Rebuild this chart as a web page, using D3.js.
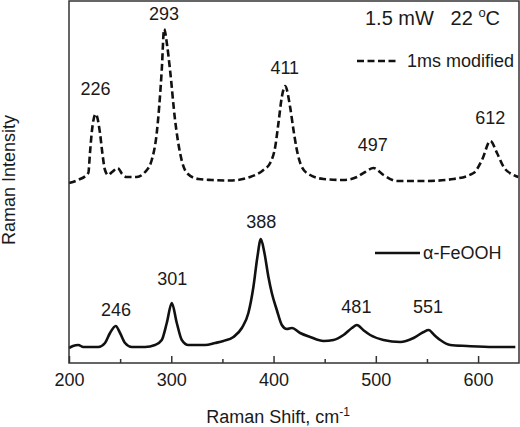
<!DOCTYPE html>
<html><head><meta charset="utf-8">
<script src="https://cdn.jsdelivr.net/npm/d3@7"></script>
<style>
body{margin:0;background:#fff;}
text{font-family:"Liberation Sans",Arial,sans-serif;fill:#1a1a1a;}
</style></head>
<body><svg id="c" width="520" height="427"></svg>
<script>
// Raman shift (cm-1) and intensity (arb. units)
const modShift = [200,208.8,218.9,220.5,222.2,226.1,230.3,232.6,235.2,238.2,242.1,247.7,251.9,256.5,266.2,274.4,280.9,285.8,290.7,293,295.9,298.8,303.7,308.6,315.2,326.5,339.6,357.5,377.1,390.1,396.7,401.6,404.8,408.1,411.4,416.2,419.5,422.8,427.7,435.8,448.8,468.4,481.5,489.6,497.7,507.5,520.6,550,576,595.6,603.8,612,618.5,625,634.7,639.3];
const modInt   = [180,183,190,210,230,249,230,210,193,188,191,195,189,186,186,191,203,230,293,334,318,293,243,210,190,184,183,182.5,186,193,200,216,240,266,277,256,233,213,196,188,184,183,186,191,195,188,182,182,184,190,203,222,210,196,188,186];
const feShift  = [200,203.9,209.1,214,220.5,228.7,235.2,240.1,245.7,249.9,254.8,261.4,274.4,284.1,290.7,295.6,300.5,305.4,310.3,316.7,333.1,342.9,351,360.8,369,375.4,380.3,384.2,387.6,391.1,395,398.3,403.2,408.1,413,417.9,426,435.8,448.8,458.6,468.4,476.6,481.5,487.7,494.5,507.5,523.9,536.9,546.7,551.6,557.1,563,572.8,589.1,615.2,636.4];
const feInt    = [15,17,18,16,16,16,20,30,37,30,20,16,16,18,23,40,60,40,23,18,18,20,22,26,35,50,76,106,124,110,86,70,53,38,34,35,30,26,22,23,28,35,38,33,28,23,21,25,31,33,28,23,18,17,16,16];
const xTicks = [200,300,400,500,600];
const xMinor = [250,350,450,550];
const modPeaks = [226,293,411,497,612];
const modPeakLab = [268,343,289,212,239];
const fePeaks = [246,301,388,481,551];
const fePeakLab = [47,78,135,50,50];

const svg = d3.select("#c");
const L=69,R=519,T=1,B=363;
const x = d3.scaleLinear().domain([200,640]).range([L,R]);
const y = d3.scaleLinear().domain([0,362]).range([B,T]);

const line = d3.line().x(d=>x(d[0])).y(d=>y(d[1])).curve(d3.curveMonotoneX);
const modData = modShift.map((s,i)=>[s,modInt[i]]);
const feData = feShift.map((s,i)=>[s,feInt[i]]);

svg.append("path").datum(modData).attr("d",line).attr("fill","none")
  .attr("stroke","#111").attr("stroke-width",2.6).attr("stroke-dasharray","7,3.5");
svg.append("path").datum(feData).attr("d",line).attr("fill","none")
  .attr("stroke","#111").attr("stroke-width",2.6);

// frame
svg.append("rect").attr("x",L).attr("y",T).attr("width",R-L).attr("height",B-T)
  .attr("fill","none").attr("stroke","#333").attr("stroke-width",1.5);

const ax = svg.append("g").attr("transform",`translate(0,${B})`)
  .call(d3.axisBottom(x).tickValues(xTicks).tickSize(-7).tickPadding(10).tickSizeOuter(0));
ax.select(".domain").remove();
ax.selectAll("line").attr("stroke","#333").attr("stroke-width",1.5);
ax.selectAll("text").style("font-size","18px").attr("fill","#1a1a1a");
const am = svg.append("g").attr("transform",`translate(0,${B})`)
  .call(d3.axisBottom(x).tickValues(xMinor).tickSize(-4).tickFormat("").tickSizeOuter(0));
am.select(".domain").remove();
am.selectAll("line").attr("stroke","#333").attr("stroke-width",1.5);

// peak labels
svg.selectAll(".pm").data(modPeaks).enter().append("text")
  .attr("x",d=>x(d)).attr("y",(d,i)=>y(modPeakLab[i])).attr("text-anchor","middle")
  .style("font-size","18px").text(d=>d);
svg.selectAll(".pf").data(fePeaks).enter().append("text")
  .attr("x",d=>x(d)).attr("y",(d,i)=>y(fePeakLab[i])).attr("text-anchor","middle")
  .style("font-size","18px").text(d=>d);

// axis titles
const xt = svg.append("text").attr("x",278).attr("y",423).attr("text-anchor","middle").style("font-size","18px");
xt.append("tspan").text("Raman Shift, cm");
xt.append("tspan").attr("dy",-7).style("font-size","12px").text("-1");
svg.append("text").attr("transform","translate(15,180) rotate(-90)").attr("text-anchor","middle")
  .style("font-size","18px").text("Raman Intensity");

// condition text
const ct = svg.append("text").attr("x",365).attr("y",25).style("font-size","20px");
ct.append("tspan").text("1.5 mW   22 ");
ct.append("tspan").attr("dy",-8).style("font-size","13px").text("o");
ct.append("tspan").attr("dy",8).text("C");
ct.attr("xml:space","preserve").style("white-space","pre");

// legends
svg.append("line").attr("x1",357).attr("x2",399).attr("y1",61).attr("y2",61)
  .attr("stroke","#111").attr("stroke-width",2.6).attr("stroke-dasharray","7,3.5");
svg.append("text").attr("x",407).attr("y",67).style("font-size","18px").text("1ms modified");
svg.append("line").attr("x1",375).attr("x2",420).attr("y1",253).attr("y2",253)
  .attr("stroke","#111").attr("stroke-width",2.6);
svg.append("text").attr("x",423).attr("y",259).style("font-size","18px").text("α-FeOOH");
</script></body></html>
